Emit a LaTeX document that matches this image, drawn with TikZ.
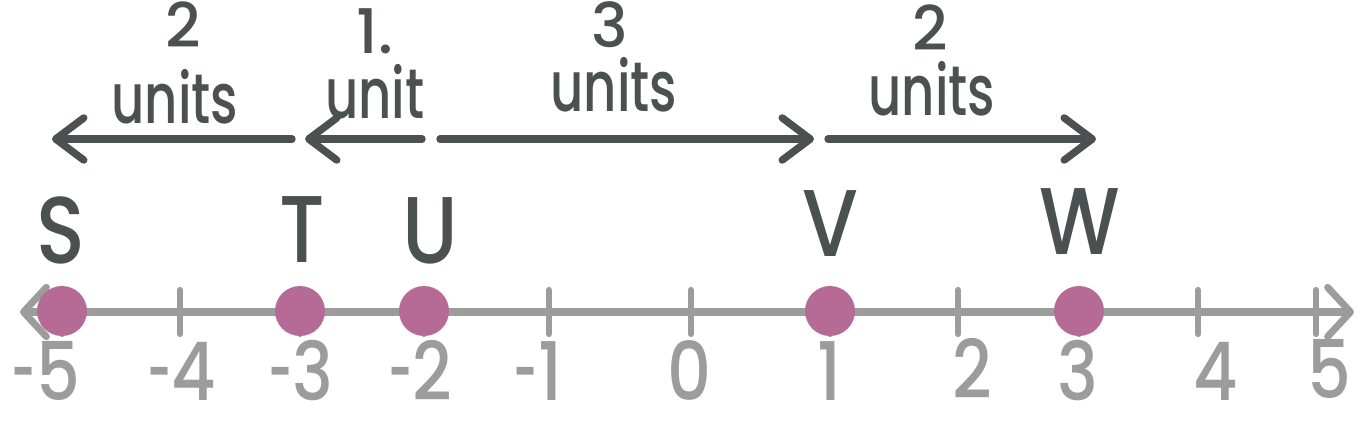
\documentclass[tikz,border=0pt]{standalone}
\usepackage{fontspec}
\setmainfont{Poppins Medium}
\usetikzlibrary{arrows.meta}
\definecolor{ink}{HTML}{4B5050}
\definecolor{axisgray}{HTML}{9C9C9C}
\definecolor{dotc}{HTML}{B56B96}
\newcommand{\shorthy}{\scalebox{0.6}[1]{-}}
\begin{document}
\begin{tikzpicture}[x=0.02cm,y=-0.02cm,
 lettr/.style={text=ink,font=\fontsize{54}{54}\selectfont,inner sep=0,anchor=base},
 numlab/.style={text=axisgray,font=\fontsize{46}{46}\selectfont,inner sep=0,anchor=base},
 unitlab/.style={text=ink,font=\fontsize{40}{40}\selectfont,inner sep=0,anchor=base},
 countlab/.style={text=ink,font=\fontsize{35}{35}\selectfont,inner sep=0,anchor=base},
 ptdot/.style={circle,fill=dotc,minimum size=1cm,inner sep=0},
 tickmark/.style={draw=axisgray,line width=3.5pt,line cap=round},
 jump/.style={draw=ink,line width=4.2pt,line cap=round,-{Straight Barb[length=16pt,width=24pt,round]}},
 axisline/.style={draw=axisgray,line width=4pt,line cap=round,{Straight Barb[length=13pt,width=28pt,round]}-{Straight Barb[length=13pt,width=28pt,round]}}
]
\useasboundingbox (0,0) rectangle (1369,426);
% number line
\coordinate (axL) at (20,312);
\coordinate (axR) at (1354,312);
\draw[axisline] (axL) -- (axR);
\foreach \x in {62,180,300,424,549,691,830,958,1079,1198,1316}
  \draw[tickmark] (\x,290) -- (\x,334);
% tick labels
\node[numlab] (n-5) at (46,400) {\scalebox{0.85}[1]{\shorthy5}};
\node[numlab] (n-4) at (182,400) {\scalebox{0.85}[1]{\shorthy4}};
\node[numlab] (n-3) at (301,400) {\scalebox{0.85}[1]{\shorthy3}};
\node[numlab] (n-2) at (420,400) {\scalebox{0.85}[1]{\shorthy2}};
\node[numlab] (n-1) at (538,400) {\scalebox{0.85}[1]{\shorthy1}};
\node[numlab] (n0) at (690,400) {\scalebox{0.85}[1]{0}};
\node[numlab] (n1) at (830,400) {\scalebox{0.85}[1]{1}};
\node[numlab] (n2) at (972,398) {\scalebox{0.85}[1]{2}};
\node[numlab] (n3) at (1078,400) {\scalebox{0.85}[1]{3}};
\node[numlab] (n4) at (1216,400) {\scalebox{0.85}[1]{4}};
\node[numlab] (n5) at (1329,398) {\scalebox{0.85}[1]{5}};
% points
\node[ptdot] (S) at (62,311) {};
\node[ptdot] (T) at (300,311) {};
\node[ptdot] (U) at (424,311) {};
\node[ptdot] (V) at (830,311) {};
\node[ptdot] (W) at (1079,311) {};
% point letters
\node[lettr] (lS) at (61,263) {\scalebox{0.85}[1]{S}};
\node[lettr] (lT) at (302,262) {\scalebox{0.85}[1]{T}};
\node[lettr] (lU) at (430,263) {\scalebox{0.85}[1]{U}};
\node[lettr] (lV) at (830,256) {\scalebox{0.85}[1]{V}};
\node[lettr] (lW) at (1080,254) {\scalebox{0.85}[1]{W}};
% jump arrows
\coordinate (j1s) at (292,139); \coordinate (j1e) at (52,139);
\coordinate (j2s) at (422,139); \coordinate (j2e) at (305,139);
\coordinate (j3s) at (440,139); \coordinate (j3e) at (814,139);
\coordinate (j4s) at (828,139); \coordinate (j4e) at (1096,139);
\draw[jump] (j1s) -- (j1e);
\draw[jump] (j2s) -- (j2e);
\draw[jump] (j3s) -- (j3e);
\draw[jump] (j4s) -- (j4e);
% jump labels
\node[countlab] (c1) at (183,47) {2};
\node[unitlab] (u1) at (175,123) {\scalebox{0.73}[1]{units}};
\node[countlab] (c2) at (375,53) {1.};
\node[unitlab] (u2) at (375,118) {\scalebox{0.73}[1]{unit}};
\node[countlab] (c3) at (610,47) {3};
\node[unitlab] (u3) at (614,111) {\scalebox{0.73}[1]{units}};
\node[countlab] (c4) at (930,51) {2};
\node[unitlab] (u4) at (932,115) {\scalebox{0.73}[1]{units}};
\end{tikzpicture}
\end{document}
